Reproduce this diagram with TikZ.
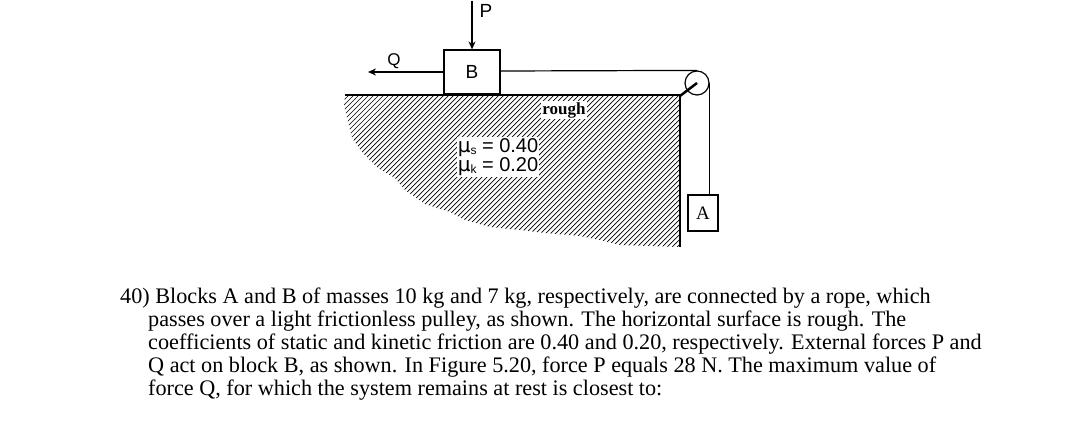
\documentclass[tikz,border=0pt]{standalone}
\usepackage{fontspec}
\setmainfont{Liberation Serif}
\newfontfamily\dsans{Liberation Sans}
\newfontfamily\dgreek{DejaVu Sans}
\usetikzlibrary{patterns,arrows.meta}
\pgfdeclarepatternformonly{hatchwide}{\pgfqpoint{-1pt}{-1pt}}{\pgfqpoint{6pt}{6pt}}{\pgfqpoint{5pt}{5pt}}{%
  \pgfsetlinewidth{0.7pt}
  \pgfpathmoveto{\pgfqpoint{0pt}{0pt}}
  \pgfpathlineto{\pgfqpoint{5.1pt}{5.1pt}}
  \pgfusepath{stroke}}
\begin{document}
\begin{tikzpicture}[x=1pt,y=-1pt,
  box/.style={draw,line width=1.2pt,inner sep=0pt},
  qline/.style={anchor=west,inner sep=0pt,font=\fontsize{22.2}{24}\selectfont},
  arr/.style={-{Stealth[length=8pt,width=7pt]},line width=1.2pt}]
\useasboundingbox (0,0) rectangle (1092,424);
% ground
\path[pattern=hatchwide] (345,95) -- (680,95) -- (680,247) -- (620,245) -- (600,240) -- (580,236) -- (545,233) -- (520,230) -- (490,227) -- (465,220) -- (450,212) -- (425,204) -- (405,190) -- (395,178) -- (378,168) -- (362,152) -- (352,138) -- (348,122) -- (344,105) -- cycle;
\draw[line width=1.2pt] (345,95) -- (680,95) -- (680,247);
\node[fill=white,inner sep=1pt,font=\bfseries\fontsize{17}{17}\selectfont] (rough) at (564,110) {rough};
\node[fill=white,inner sep=1pt,align=left,font=\dsans\fontsize{20}{18}\selectfont] (mu) at (498,157) {{\dgreek μ}\raisebox{-2pt}{\fontsize{12}{12}\selectfont s} = 0.40\\{\dgreek μ}\raisebox{-2pt}{\fontsize{12}{12}\selectfont k} = 0.20};
% block B
\node[box,minimum width=56pt,minimum height=44pt,font=\dsans\fontsize{19}{19}\selectfont] (B) at (472,72) {B};
\coordinate (Ptop) at (472,1);
\draw[arr] (Ptop) -- (B.north);
\node[font=\dsans\fontsize{19}{19}\selectfont] (P) at (486,11) {P};
\coordinate (Qend) at (368,72);
\draw[arr] (B.west |- 0,72) -- (Qend);
\node[font=\dsans\fontsize{17}{17}\selectfont] (Q) at (394,61) {Q};
% pulley
\node[draw,circle,line width=1.2pt,minimum size=24pt,inner sep=0pt] (pul) at (697,83) {};
\coordinate (corner) at (680,96);
\draw[line width=2.5pt] (corner) -- (pul.center);
\draw[line width=1.2pt] (B.east |- 0,71) -- (pul.north);
% block A
\node[box,minimum width=30pt,minimum height=36pt,font=\fontsize{19}{19}\selectfont] (A) at (703,213) {A};
\draw[line width=1.2pt] (pul.east) -- (pul.east |- A.north);
% text
\node[qline] (l1) at (120,298) {40) Blocks A and B of masses 10 kg and 7 kg, respectively, are connected by a rope, which};
\node[qline] (l2) at (148,321) {passes over a light frictionless pulley, as shown. The horizontal surface is rough. The};
\node[qline] (l3) at (148,344) {coefficients of static and kinetic friction are 0.40 and 0.20, respectively. External forces P and};
\node[qline] (l4) at (148,367) {Q act on block B, as shown. In Figure 5.20, force P equals 28 N. The maximum value of};
\node[qline] (l5) at (148,390) {force Q, for which the system remains at rest is closest to:};
\end{tikzpicture}
\end{document}
